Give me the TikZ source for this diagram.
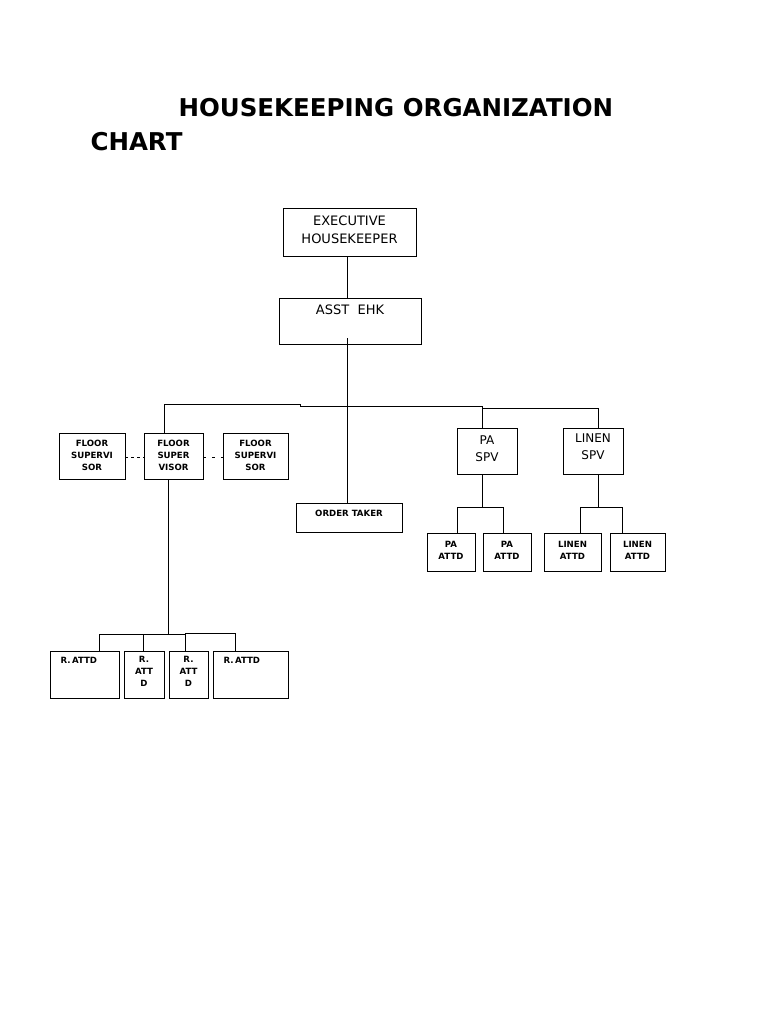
\documentclass[tikz,border=0pt]{standalone}
\usepackage{fontspec}
\setmainfont{DejaVu Sans}
\begin{document}
\begin{tikzpicture}[x=1pt,y=-1pt,
  bx/.style={draw,line width=0.7pt,inner sep=0pt},
  ln/.style={line width=0.7pt},
  big/.style={font=\fontsize{13}{18}\selectfont,align=center},
  sm/.style={font=\bfseries\fontsize{8.6}{12}\selectfont,align=center},
  md/.style={font=\fontsize{12}{17}\selectfont,align=center}]
\useasboundingbox (0,0) rectangle (768,1024);
\node[anchor=west,font=\bfseries\fontsize{24.5}{28}\selectfont] (t1) at (175,108) {HOUSEKEEPING ORGANIZATION};
\node[anchor=west,font=\bfseries\fontsize{24.5}{28}\selectfont] (t2) at (87,142) {CHART};
% boxes
\draw[bx] (283,208) rectangle (416,256);
\node[big] (ehk) at (349.5,229.5) {EXECUTIVE\\HOUSEKEEPER};
\draw[bx] (279,298) rectangle (421,344);
\node[big] (asst) at (350,310) {ASST\ \ EHK};
\coordinate (ehkb) at (347,256); \coordinate (asstt) at (347,298);
\coordinate (asstb) at (347,338);
\draw[bx] (59,433) rectangle (125,479); \node[sm] (f1) at (92,455) {FLOOR\\SUPERVI\\SOR};
\draw[bx] (144,433) rectangle (203,479); \node[sm] (f2) at (173.5,455) {FLOOR\\SUPER\\VISOR};
\draw[bx] (223,433) rectangle (288,479); \node[sm] (f3) at (255.5,455) {FLOOR\\SUPERVI\\SOR};
\draw[bx] (457,428) rectangle (517,474); \node[md] (pa) at (487,449) {PA\\SPV};
\draw[bx] (563,428) rectangle (623,474); \node[md] (li) at (593,447) {LINEN\\SPV};
\draw[bx] (296,503) rectangle (402,532); \node[sm] (ot) at (349,513) {ORDER TAKER};
\draw[bx] (427,533) rectangle (475,571); \node[sm] (pa1) at (451,550) {PA\\ATTD};
\draw[bx] (483,533) rectangle (531,571); \node[sm] (pa2) at (507,550) {PA\\ATTD};
\draw[bx] (544,533) rectangle (601,571); \node[sm] (la1) at (572.5,550) {LINEN\\ATTD};
\draw[bx] (610,533) rectangle (665,571); \node[sm] (la2) at (637.5,550) {LINEN\\ATTD};
\draw[bx] (50,651) rectangle (119,698); \node[sm,anchor=north west] (r1) at (57,654) {R.\,ATTD};
\draw[bx] (124,651) rectangle (164,698); \node[sm] (r2) at (144,671) {R.\\ATT\\D};
\draw[bx] (169,651) rectangle (208,698); \node[sm] (r3) at (188.5,671) {R.\\ATT\\D};
\draw[bx] (213,651) rectangle (288,698); \node[sm,anchor=north west] (r4) at (220,654) {R.\,ATTD};
% connectors
\draw[ln] (ehkb) -- (asstt);
\draw[ln] (asstb) -- (347,503);
\draw[ln] (164,433) -- (164,404) -- (300,404) -- (300,406) -- (482,406) -- (482,428);
\draw[ln] (482,408) -- (598,408) -- (598,428);
\draw[ln,dash pattern=on 3pt off 3pt] (125,457) -- (144,457);
\draw[ln,dash pattern=on 3pt off 6pt] (203,457) -- (223,457);
\draw[ln] (482,474) -- (482,507);
\draw[ln] (457,533) -- (457,507) -- (503,507) -- (503,533);
\draw[ln] (598,474) -- (598,507);
\draw[ln] (580,533) -- (580,507) -- (622,507) -- (622,533);
\draw[ln] (168,479) -- (168,634);
\draw[ln] (99,651) -- (99,634) -- (185,634) -- (185,633) -- (235,633) -- (235,651);
\draw[ln] (143,634) -- (143,651);
\draw[ln] (185,634) -- (185,651);
\end{tikzpicture}
\end{document}
